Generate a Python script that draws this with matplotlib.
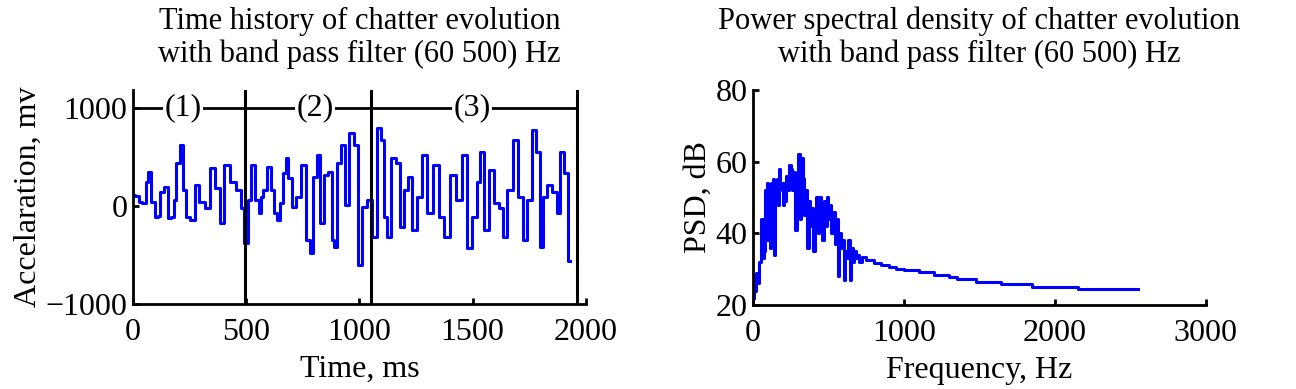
import numpy as np
import matplotlib
matplotlib.use('Agg')
import matplotlib.pyplot as plt

BLUE = '#0000ff'
BLACK = '#000000'

plt.rcParams.update({
    'font.family':      ['Liberation Serif', 'DejaVu Serif'],
    'font.size':        23,
    'axes.linewidth':   2.0,
    'xtick.direction':  'in',
    'ytick.direction':  'in',
    'xtick.major.width': 2.0,
    'ytick.major.width': 2.0,
    'xtick.major.size': 4,
    'ytick.major.size': 4,
})

# time history (ms, mv)
time_ms = [0, 22, 30, 52, 59, 74, 88, 103, 118, 125, 147, 162, 177, 184, 199,
           213, 228, 243, 265, 280, 302, 331, 353, 375, 390, 412, 442, 464,
           486, 495, 517, 524, 553, 561, 568, 583, 597, 620, 627, 642, 656,
           671, 678, 693, 708, 730, 752, 774, 789, 804, 818, 833, 855, 870,
           885, 892, 907, 929, 943, 966, 988, 1002, 1024, 1046, 1068, 1083,
           1105, 1112, 1134, 1149, 1171, 1186, 1208, 1223, 1245, 1267, 1289,
           1311, 1341, 1363, 1385, 1414, 1436, 1466, 1488, 1510, 1525, 1540,
           1562, 1584, 1606, 1628, 1642, 1665, 1687, 1716, 1731, 1753, 1768,
           1790, 1805, 1819, 1841, 1863, 1878, 1893, 1915, 1930]
accel_mv = [112, 100, 40, 30, 245, 347, 40, -112, -100, 143, 194, -122, -110,
            61, 439, 622, 163, -112, -143, 214, 40, -20, 388, 182, -173, 418,
            245, 163, -20, -377, 61, 418, 61, -71, 95, 163, 398, 163, -71,
            -143, 30, 337, 490, 282, -10, 92, 418, -347, -480, 296, 520, -173,
            316, 340, -347, -418, 439, 622, 10, 745, 622, -600, -10, 61, -316,
            796, 673, -112, -316, 490, 439, -214, 163, 296, -245, 92, 520, -71,
            418, -112, -316, 316, 61, 520, -430, -112, 245, 551, -245, 367, 30,
            -20, -316, 163, 673, 92, -347, 61, 775, 551, -418, 92, 214, 143,
            -71, 551, 330, -560]

segment_bounds = [495, 1050, 1960]
segment_labels = ['(1)', '(2)', '(3)']
segment_label_t = [221, 803, 1497]

# power spectral density (Hz, dB)
psd_freq = [0, 5, 10, 15, 20, 30, 40, 50, 55, 60, 70, 75, 80, 90, 95, 100,
            105, 110, 120, 125, 130, 140, 145, 150, 160, 165, 170, 180, 190,
            200, 205, 210, 220, 230, 240, 250, 255, 260, 270, 280, 290, 295,
            300, 310, 320, 330, 335, 340, 350, 360, 370, 380, 390, 400, 410,
            420, 430, 440, 450, 460, 470, 480, 490, 500, 510, 520, 530, 540,
            550, 560, 570, 580, 590, 600, 610, 620, 630, 640, 650, 660, 670,
            680, 690, 700, 720, 750, 800, 850, 900, 950, 1000, 1100, 1200,
            1300, 1350, 1480, 1640, 1850, 2150, 2550]
psd_db = [28, 22, 27, 24, 29, 26, 32, 33, 44, 33, 44, 35, 52, 38, 54, 45, 53,
          36, 54, 40, 55, 34, 52, 53, 55, 48, 58, 54, 52, 48, 54, 49, 56, 52,
          59, 55, 58, 52, 57, 41, 56, 50, 62, 44, 61, 47, 55, 45, 52, 36, 49,
          42, 47, 35, 45, 50, 40, 50, 45, 38, 49, 42, 50, 44, 48, 40, 46, 37,
          44, 28, 40, 36, 38, 27, 35, 33, 38, 27, 36, 32, 35, 33, 34, 32, 33.5,
          32.6, 31.8, 31.2, 30.6, 30.1, 29.7, 29.2, 28.4, 27.8, 27.2, 26.5,
          25.9, 25.1, 24.5, 24.5]

fig = plt.figure(figsize=(12.96, 3.89), dpi=100)

# left: time history
ax1 = fig.add_axes([0.1026, 0.2185, 0.3495, 0.550])
ax1.step(time_ms, accel_mv, where='mid', color=BLUE, lw=2.2)
for tb in segment_bounds:
    ax1.axvline(tb, color=BLACK, lw=2.2)
ax1.axhline(1000, xmin=0, xmax=segment_bounds[-1] / 2000, color=BLACK, lw=2.0)
for lab, tl in zip(segment_labels, segment_label_t):
    ax1.text(tl, 1000, lab, ha='center', va='center', fontsize=23,
             bbox=dict(facecolor='white', edgecolor='none', pad=1))
ax1.set_xlim(0, 2000)
ax1.set_ylim(-1000, 1180)
ax1.set_xticks([0, 500, 1000, 1500, 2000])
ax1.set_yticks([-1000, 0, 1000])
ax1.set_yticklabels(['\u22121000', '0', '1000'])
ax1.set_xlabel('Time, ms', labelpad=6)
ax1.set_ylabel('Accelaration, mv', labelpad=2)
ax1.set_title('Time history of chatter evolution\nwith band pass filter (60 500) Hz',
              fontsize=22, linespacing=1.15, pad=20)

# right: PSD
ax2 = fig.add_axes([0.581, 0.216, 0.3495, 0.553])
ax2.step(psd_freq, psd_db, where='post', color=BLUE, lw=2.2)
ax2.set_xlim(0, 3000)
ax2.set_ylim(20, 80)
ax2.set_xticks([0, 1000, 2000, 3000])
ax2.set_yticks([20, 40, 60, 80])
ax2.set_xlabel('Frequency, Hz', labelpad=6)
ax2.set_ylabel('PSD, dB', labelpad=2)
ax2.set_title('Power spectral density of chatter evolution\nwith band pass filter (60 500) Hz',
              fontsize=22, linespacing=1.15, pad=20)

for ax in (ax1, ax2):
    ax.spines['top'].set_visible(False)
    ax.spines['right'].set_visible(False)
    ax.tick_params(axis='x', pad=10)
    ax.tick_params(axis='y', pad=4)

fig.savefig('out.png', dpi=100, facecolor='white')
